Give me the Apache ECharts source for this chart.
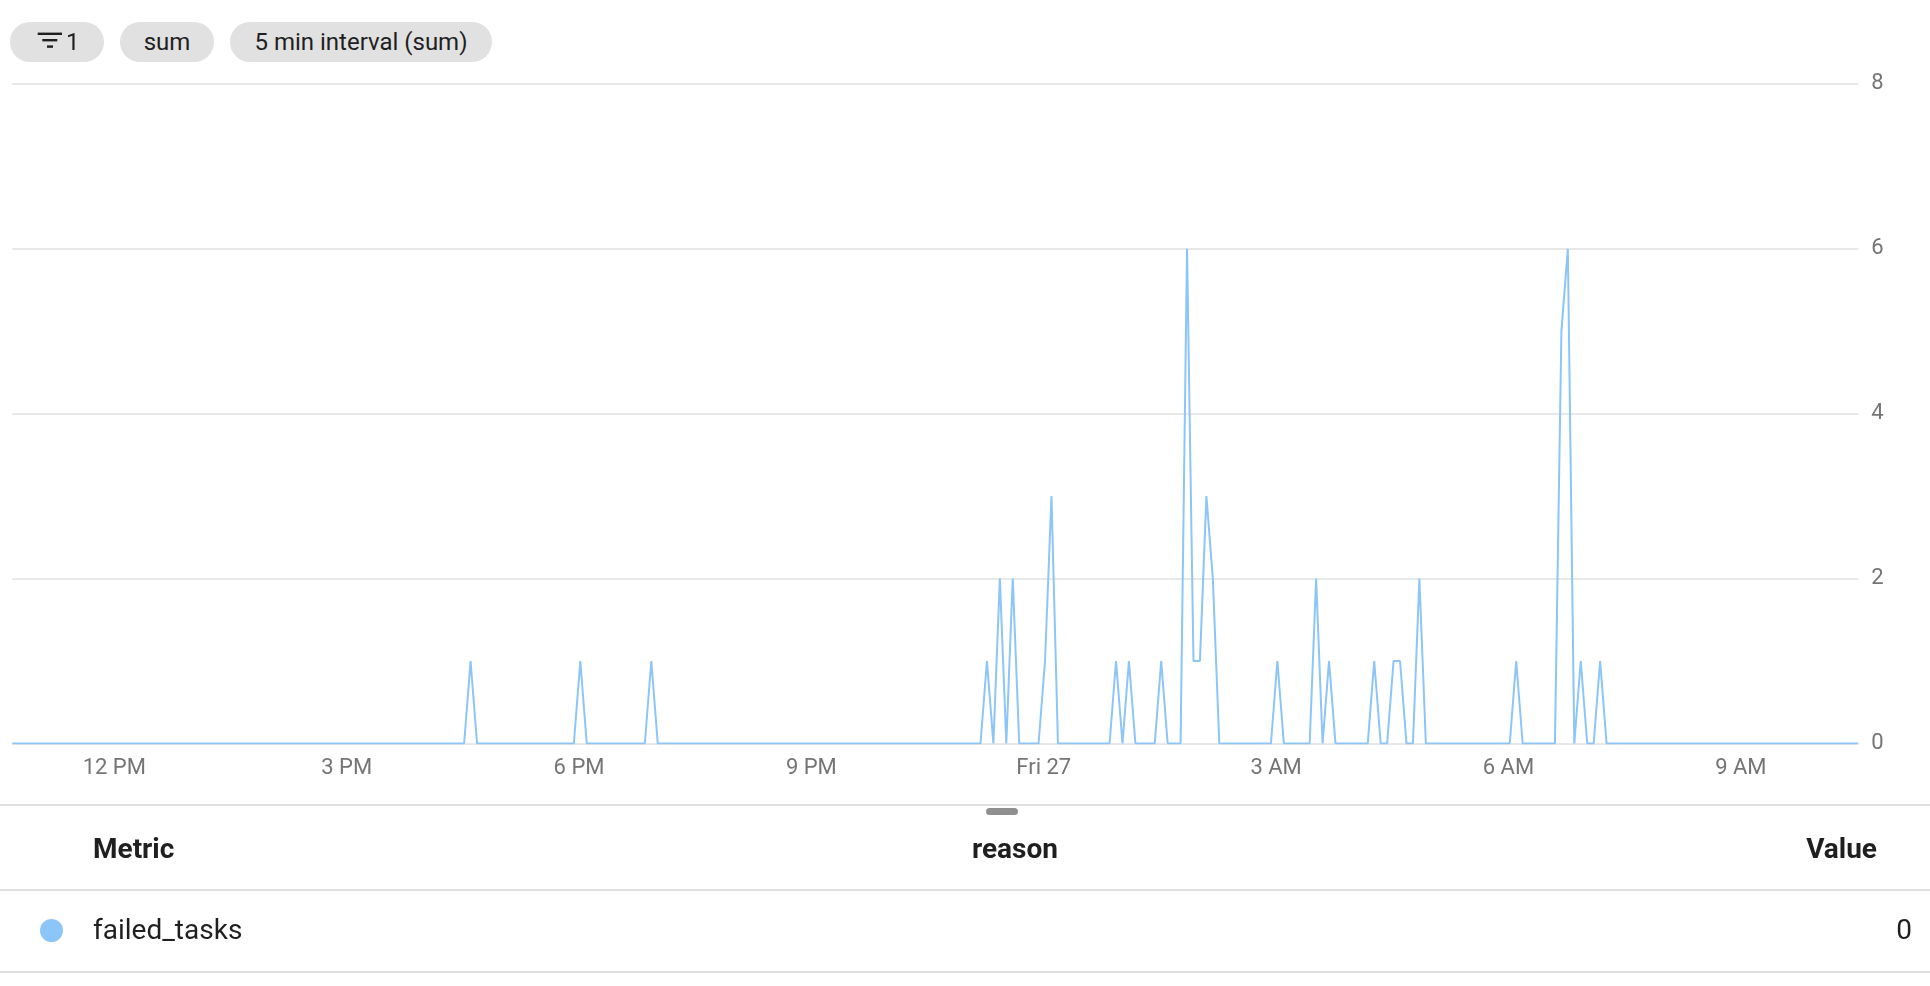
<!DOCTYPE html>
<html>
<head>
<meta charset="utf-8">
<script src="https://cdn.jsdelivr.net/npm/echarts@6/dist/echarts.min.js"></script>
<style>
html,body{margin:0;padding:0;background:#fff;width:1930px;height:986px;overflow:hidden;font-family:Roboto,"Noto Sans",sans-serif;}
#chart{position:absolute;left:0;top:0;width:1930px;height:986px;}
.chip{position:absolute;top:22px;height:40px;border-radius:20px;background:#e1e1e1;color:#1f1f1f;font-size:24px;line-height:40px;box-sizing:border-box;text-align:center;white-space:nowrap;}
.hline{position:absolute;left:0;width:1930px;height:2px;background:#e0e0e0;}
.cell{position:absolute;font-size:28px;color:#1f1f1f;line-height:34px;white-space:nowrap;}
.bold{font-weight:700;}
</style>
</head>
<body>
<div id="chart"></div>

<div class="chip" style="left:10px;width:94px;">
  <svg style="position:absolute;left:27px;top:9px" width="26" height="20" viewBox="0 0 26 20">
    <rect x="0.7" y="1.6" width="24.3" height="2.4" fill="#1f1f1f"/>
    <rect x="5.3" y="8" width="15" height="2.4" fill="#1f1f1f"/>
    <rect x="10" y="14.4" width="6" height="2.4" fill="#1f1f1f"/>
  </svg>
  <span style="position:absolute;left:56px;top:0;">1</span>
</div>
<div class="chip" style="left:120px;width:94px;">sum</div>
<div class="chip" style="left:230px;width:262px;">5 min interval (sum)</div>

<div class="hline" style="top:804px;"></div>
<div style="position:absolute;left:986px;top:808px;width:32px;height:7px;border-radius:4px;background:#8f8f8f;"></div>
<div class="cell bold" style="left:93px;top:832px;">Metric</div>
<div class="cell bold" style="left:972px;top:832px;">reason</div>
<div class="cell bold" style="right:53px;top:832px;">Value</div>
<div class="hline" style="top:889px;"></div>
<div style="position:absolute;left:40px;top:918.5px;width:23px;height:23px;border-radius:50%;background:#8cc5f8;"></div>
<div class="cell" style="left:93px;top:913px;">failed_tasks</div>
<div class="cell" style="right:18px;top:913px;">0</div>
<div class="hline" style="top:971px;"></div>

<script>
// ---- data ----
// series start time (local) and step between points (5 min sum interval)
const startTime = [2024, 8, 26, 10, 41];   // Thu 26 Sep 10:41
const stepMinutes = 5;
// failed_tasks, one value per 5-minute interval (12 values per row = 1 hour)
const failedTasks = [
  0,0,0,0,0,0,0,0,0,0,0,0,
  0,0,0,0,0,0,0,0,0,0,0,0,
  0,0,0,0,0,0,0,0,0,0,0,0,
  0,0,0,0,0,0,0,0,0,0,0,0,
  0,0,0,0,0,0,0,0,0,0,0,0,
  0,0,0,0,0,0,0,0,0,0,0,1,
  0,0,0,0,0,0,0,0,0,0,0,0,
  0,0,0,0,1,0,0,0,0,0,0,0,
  0,0,0,1,0,0,0,0,0,0,0,0,
  0,0,0,0,0,0,0,0,0,0,0,0,
  0,0,0,0,0,0,0,0,0,0,0,0,
  0,0,0,0,0,0,0,0,0,0,0,0,
  0,0,0,0,0,0,0,1,0,2,0,2,
  0,0,0,0,1,3,0,0,0,0,0,0,
  0,0,0,1,0,1,0,0,0,0,1,0,
  0,0,6,1,1,3,2,0,0,0,0,0,
  0,0,0,0,1,0,0,0,0,0,2,0,
  1,0,0,0,0,0,0,1,0,0,1,1,
  0,0,2,0,0,0,0,0,0,0,0,0,
  0,0,0,0,0,1,0,0,0,0,0,0,
  5,6,0,1,0,0,1,0,0,0,0,0,
  0,0,0,0,0,0,0,0,0,0,0,0,
  0,0,0,0,0,0,0,0,0,0,0,0,
  0,0,0,0,0,0,0,0,0,0,0
];
const yTicks = [0, 2, 4, 6, 8];
// x tick labels: every 3 hours, starting at 12 PM on Thu 26
const xTickStart = [2024, 8, 26, 12, 0];
const xTickHours = 3;
const xTickLabels = ['12 PM', '3 PM', '6 PM', '9 PM', 'Fri 27', '3 AM', '6 AM', '9 AM'];

// ---- build ----
const t0 = new Date(startTime[0], startTime[1], startTime[2], startTime[3], startTime[4]).getTime();
const stepMs = stepMinutes * 60 * 1000;
const seriesData = failedTasks.map((v, i) => [t0 + i * stepMs, v]);
const tMin = seriesData[0][0];
const tMax = seriesData[seriesData.length - 1][0];

const tick0 = new Date(xTickStart[0], xTickStart[1], xTickStart[2], xTickStart[3], xTickStart[4]).getTime();
const tickValues = xTickLabels.map((_, i) => tick0 + i * xTickHours * 3600 * 1000);
const labelByTime = {};
tickValues.forEach((t, i) => { labelByTime[t] = xTickLabels[i]; });

const chart = echarts.init(document.getElementById('chart'), null, {renderer: 'canvas'});
chart.setOption({
  animation: false,
  backgroundColor: 'transparent',
  grid: {left: 12.3, right: 71.7, top: 83.7, bottom: 242.5, containLabel: false},
  xAxis: {
    type: 'value',
    min: tMin,
    max: tMax,
    scale: true,
    axisLine: {show: false},
    axisTick: {show: false},
    splitLine: {show: false},
    axisLabel: {
      customValues: tickValues,
      formatter: function (val) { return labelByTime[val] !== undefined ? labelByTime[val] : ''; },
      color: '#757575',
      fontSize: 22,
      fontFamily: 'Roboto',
      margin: 14,
      hideOverlap: false
    }
  },
  yAxis: {
    type: 'value',
    position: 'right',
    min: yTicks[0],
    max: yTicks[yTicks.length - 1],
    interval: yTicks[1] - yTicks[0],
    axisLine: {show: false},
    axisTick: {show: false},
    splitLine: {lineStyle: {color: '#e8e8e8', width: 2}},
    axisLabel: {color: '#757575', fontSize: 22, fontFamily: 'Roboto', margin: 13}
  },
  series: [{
    name: 'failed_tasks',
    type: 'line',
    data: seriesData,
    showSymbol: false,
    symbol: 'none',
    lineStyle: {color: '#8cc5f8', width: 2},
    itemStyle: {color: '#8cc5f8'}
  }]
});
</script>
</body>
</html>
